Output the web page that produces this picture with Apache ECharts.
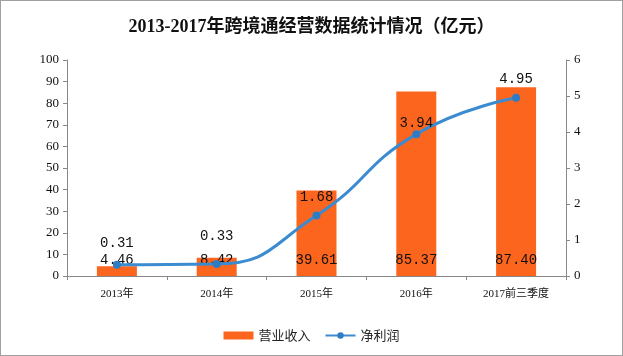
<!DOCTYPE html>
<html><head><meta charset="utf-8">
<script src="https://cdn.jsdelivr.net/npm/echarts@6/dist/echarts.min.js"></script>
<style>html,body{margin:0;padding:0;background:#fff}#c{width:623px;height:356px;box-sizing:border-box;border:1px solid #a0a0a0}</style>
</head><body><div id="c"></div>
<script>
const categories = ['2013年','2014年','2015年','2016年','2017前三季度'];
const revenue = [4.46, 8.42, 39.61, 85.37, 87.40];
const profit = [0.31, 0.33, 1.68, 3.94, 4.95];
const leftTicks = [0,10,20,30,40,50,60,70,80,90,100];
const rightTicks = [0,1,2,3,4,5,6];
const profitLabelGap = [11, 17, 7, 0, 8];

const serif = '"Liberation Serif","DejaVu Serif","Noto Sans CJK SC",serif';
const mono = '"Liberation Mono","DejaVu Sans Mono","Noto Sans CJK SC",monospace';
const chart = echarts.init(document.getElementById('c'));
chart.setOption({
  animation: false,
  title: {text: '2013-2017年跨境通经营数据统计情况（亿元）', left: 'center', top: 12,
    textStyle: {fontFamily: '"Liberation Serif","Noto Sans CJK SC",serif', fontSize: 18, fontWeight: 'bold', color: '#111'}},
  legend: {bottom: 8, left: 'center', itemWidth: 30, itemHeight: 8, itemGap: 14,
    textStyle: {fontFamily: '"Noto Sans CJK SC",sans-serif', fontSize: 13, color: '#222'},
    data: [{name: '营业收入', icon: 'rect'}, {name: '净利润'}]},
  grid: {left: 66, right: 56, top: 59, bottom: 79, containLabel: false},
  xAxis: {type: 'category', data: categories, boundaryGap: true,
    axisLine: {lineStyle: {color: '#888'}}, axisTick: {show: true, alignWithLabel: false, length: 4, lineStyle: {color: '#888'}},
    axisLabel: {fontFamily: serif, fontSize: 11, color: '#111', margin: 13}},
  yAxis: [
    {type: 'value', min: leftTicks[0], max: leftTicks[leftTicks.length-1], interval: 10, splitLine: {show: false},
     axisLine: {show: true, lineStyle: {color: '#888'}}, axisTick: {show: true, length: 4, lineStyle: {color: '#888'}},
     axisLabel: {fontFamily: serif, fontSize: 13, color: '#111', margin: 8}},
    {type: 'value', min: rightTicks[0], max: rightTicks[rightTicks.length-1], interval: 1, splitLine: {show: false}, position: 'right',
     axisLine: {show: true, lineStyle: {color: '#888'}}, axisTick: {show: true, length: 4, lineStyle: {color: '#888'}},
     axisLabel: {fontFamily: serif, fontSize: 13, color: '#111', margin: 8}}
  ],
  series: [
    {name: '营业收入', type: 'bar', data: revenue, barWidth: 40, yAxisIndex: 0,
     itemStyle: {color: '#fc651d'},
     label: {show: true, position: 'insideBottom', distance: 9, fontFamily: mono, fontSize: 14, color: '#111',
       formatter: p => p.value.toFixed(2)}},
    {name: '净利润', type: 'line', yAxisIndex: 1, smooth: 0.5,
     data: profit.map((v, i) => ({value: v, label: {distance: profitLabelGap[i]}})),
     symbol: 'circle', symbolSize: 8, itemStyle: {color: '#2e7cc4'}, lineStyle: {color: '#3a8bd0', width: 3},
     label: {show: true, position: 'top', fontFamily: mono, fontSize: 14, color: '#111',
       formatter: p => p.value.toFixed(2)}}
  ]
});
</script></body></html>
